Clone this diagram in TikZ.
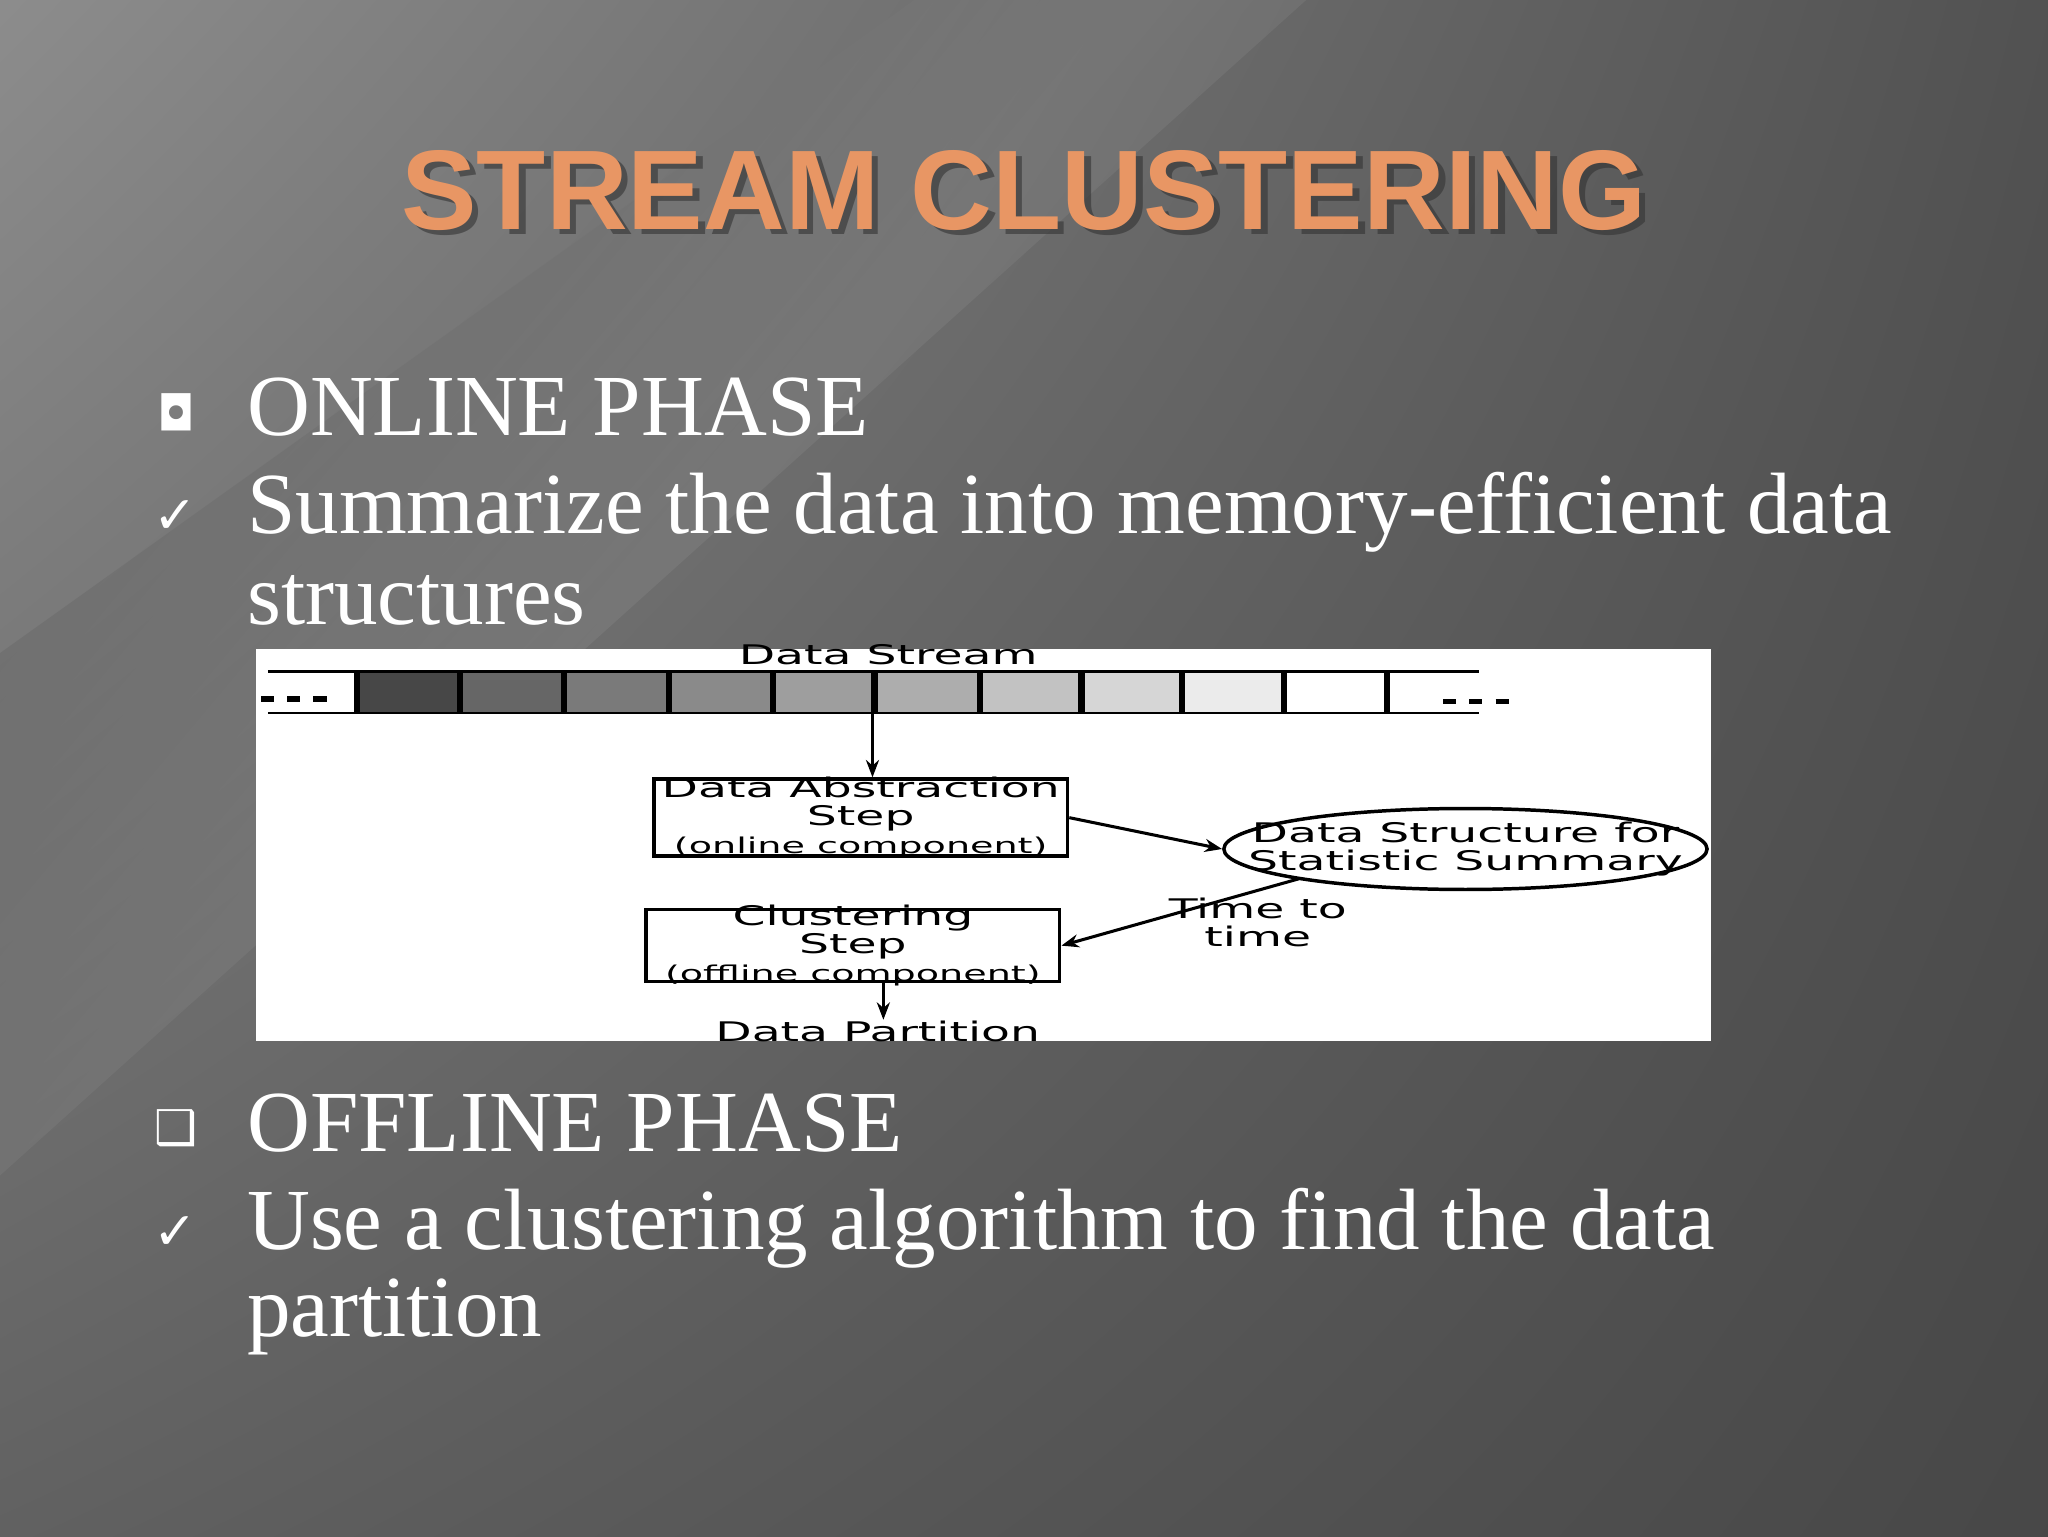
\documentclass[tikz,border=0pt]{standalone}
\usepackage{fontspec}
\setmainfont{Liberation Serif}
\newfontfamily\titlefont{Liberation Sans}
\newfontfamily\symfont{DejaVu Sans}
\newfontfamily\diagfont{DejaVu Sans}
\usetikzlibrary{shapes.geometric,arrows.meta,shadings}
\definecolor{titleorange}{RGB}{232,150,100}
\tikzset{every picture/.style={line width=0.75pt}}
\tikzset{
  bodytext/.style={anchor=west,inner sep=0pt,text=white,font=\fontsize{20}{22}\selectfont},
  bullet/.style={inner sep=0pt,text=white},
  diagtext/.style={inner sep=0pt,font=\diagfont\fontsize{6.2}{6.4}\selectfont,align=center,xscale=1.75},
  stepbox/.style={draw,line width=0.8pt},
  flow/.style={-{Stealth[length=4pt]},line width=0.7pt}
}
\begin{document}
\begin{tikzpicture}[x=0.3pt,y=0.3pt,yscale=-1,xscale=1]
		%background
		\useasboundingbox (0,0) rectangle (1568,1176);
		\shade[upper left=black!45,upper right=black!68,lower left=black!62,lower right=black!72] (0,0) rectangle (1568,1176);
		\shade[left color=black!62,right color=black!62,middle color=black!50,shading angle=50,opacity=0.5] (0,500) -- (700,0) -- (1000,0) -- (0,900) -- cycle;

		% Title
		\node[text=black!80,opacity=0.6,font=\titlefont\bfseries\fontsize{26}{28}\selectfont] at (789,150) {STREAM CLUSTERING};
		\node[text=titleorange,font=\titlefont\bfseries\fontsize{26}{28}\selectfont] (title) at (784,146) {STREAM CLUSTERING};

		% Text Node
		\node[bullet,font=\symfont\fontsize{11}{12}\selectfont] (b1) at (135,316) {◘};
		\node[bodytext] (online) at (188,312) {ONLINE PHASE};
		\node[bullet,font=\symfont\fontsize{12}{12}\selectfont] (c1) at (134,396) {✓};
		\node[bodytext] (sum1) at (188,392) {Summarize the data into memory-efficient data};
		\node[bodytext] (sum2) at (188,460) {structures};
		\node[bullet,font=\symfont\fontsize{11}{12}\selectfont] (b2) at (135,864) {❑};
		\node[bodytext] (offline) at (188,860) {OFFLINE PHASE};
		\node[bullet,font=\symfont\fontsize{12}{12}\selectfont] (c2) at (134,944) {✓};
		\node[bodytext] (use1) at (188,940) {Use a clustering algorithm to find the data};
		\node[bodytext] (use2) at (188,1008) {partition};

		% Diagram
		\fill[white] (196,497) rectangle (1310,797);
		\foreach \xa/\xb/\g in {273/352/72,352/432/60,432/512/52,512/592/46,592/670/38,670/750/32,750/828/24,828/905/16,905/983/8}
			\fill[black!\g] (\xa,514) rectangle (\xb,546);
		\draw[line width=0.6pt] (205,514) -- (1132,514) (205,546) -- (1132,546);
		\foreach \xx in {273,352,432,512,592,670,750,828,905,983,1062}
			\draw[line width=1.4pt] (\xx,514) -- (\xx,546);
		\draw[dash pattern=on 3pt off 3pt,line width=1.3pt] (200,535) -- (252,535);
		\draw[dash pattern=on 3pt off 3pt,line width=1.3pt] (1105,537) -- (1160,537);
		\node[diagtext] (stream) at (680,501) {Data Stream};
		\coordinate (tap) at (668,514);

		\node[stepbox,minimum width=95pt,minimum height=17.7pt] (abstr) at (659,626) {};
		\node[diagtext] at (abstr) {Data Abstraction\\Step\\{\fontsize{5}{6}\selectfont(online component)}};
		\node[draw,ellipse,line width=0.8pt,minimum width=111pt,minimum height=18.6pt] (summ) at (1122,650) {};
		\node[diagtext] at (summ) {Data Structure for\\Statistic Summary};
		\node[stepbox,minimum width=95pt,minimum height=16.5pt] (clust) at (653,724) {};
		\node[diagtext] at (clust) {Clustering\\Step\\{\fontsize{5}{6}\selectfont(offline component)}};
		\node[diagtext] (time) at (963,706) {Time to\\time};
		\node[diagtext] (part) at (672,790) {Data Partition};

		\draw[flow] (tap) -- (abstr.north -| tap);
		\draw[flow] (abstr.east) -- (summ.west);
		\draw[flow] (summ.south west) ++(4,0) -- (clust.east);
		\draw[flow] ([xshift=7pt]clust.south) -- ([xshift=7pt]clust.south |- part.north);
\end{tikzpicture}
\end{document}
